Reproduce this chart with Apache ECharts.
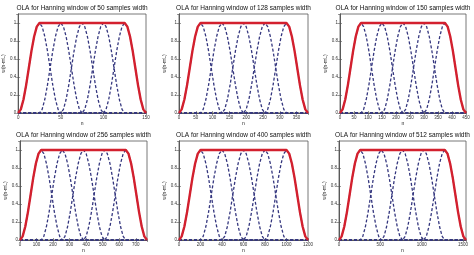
<!DOCTYPE html>
<html>
<head>
<meta charset="utf-8">
<script src="https://cdn.jsdelivr.net/npm/echarts@6/dist/echarts.min.js"></script>
<style>
html,body{margin:0;padding:0;background:#fff;}
#main{width:474px;height:255px;}
</style>
</head>
<body>
<div id="main"></div>
<script>
// window widths shown in each panel
var windowSizes=[50,128,150,256,400,512];
var xMax=[150,384,450,768,1200,1536];
var xInterval=[50,50,50,100,200,500];
var xShowMaxLabel=[true,false,true,false,true,false];
// window starts as a fraction of the width (hop = N/2)
var windowStarts=[0,0.5,1,1.5,2];
// one hanning window read at 1/16 steps of its width
var hannShape=[0,0.04,0.15,0.31,0.5,0.69,0.85,0.96,1,0.96,0.85,0.69,0.5,0.31,0.15,0.04,0];
var yTicks=[0,0.2,0.4,0.6,0.8,1];

var grids=[
    {left:18,top:14,width:128,height:99},
    {left:179,top:14,width:129,height:99},
    {left:340,top:14,width:126,height:99},
    {left:20,top:141,width:127,height:99},
    {left:179,top:141,width:129,height:99},
    {left:339,top:141,width:127,height:99}
];

var FONT='Liberation Sans';
var AXIS_COLOR='#555';

function windowData(N,start){
    var d=[[0,0]];
    for(var k=0;k<hannShape.length;k++){
        d.push([start*N+k*N/16,hannShape[k]]);
    }
    d.push([3*N,0]);
    return d;
}

function olaData(N){
    var d=[];
    for(var k=0;k<=8;k++){
        d.push([k*N/16,hannShape[k]]);
    }
    for(var k=8;k<hannShape.length;k++){
        d.push([2*N+k*N/16,hannShape[k]]);
    }
    return d;
}

var option={
    animation:false,
    backgroundColor:'#fff',
    graphic:[],grid:[],xAxis:[],yAxis:[],series:[]
};

for(var i=0;i<windowSizes.length;i++){
    var g=grids[i];
    var N=windowSizes[i];
    option.grid.push({left:g.left,top:g.top,width:g.width,height:g.height,show:true,borderColor:AXIS_COLOR,borderWidth:0.8});
    //panel titles
    option.graphic.push({
        type:'text',x:g.left+g.width/2,y:g.top-6,
        style:{text:'OLA for Hanning window of '+N+' samples width',
            textAlign:'center',textVerticalAlign:'middle',
            font:'6.5px "'+FONT+'"',fill:'#111'}
    });
    var xa={
        type:'value',gridIndex:i,min:0,max:xMax[i],interval:xInterval[i],
        name:'n',nameLocation:'middle',nameGap:7,
        nameTextStyle:{fontFamily:FONT,fontSize:5,color:'#222'},
        axisLine:{lineStyle:{color:AXIS_COLOR,width:0.8}},
        axisTick:{inside:true,length:2,lineStyle:{color:AXIS_COLOR,width:0.6}},
        axisLabel:{fontFamily:FONT,fontSize:4.5,color:'#333',margin:2,showMaxLabel:xShowMaxLabel[i],
            formatter:function(v){return String(v);}},
        splitLine:{show:false}
    };
    var xaTop={
        type:'value',gridIndex:i,position:'top',min:0,max:xMax[i],interval:xInterval[i],
        axisLine:{lineStyle:{color:AXIS_COLOR,width:0.8}},
        axisTick:{inside:true,length:2,lineStyle:{color:AXIS_COLOR,width:0.6}},
        axisLabel:{show:false},splitLine:{show:false}
    };
    var ya={
        type:'value',gridIndex:i,min:0,max:1.1,interval:0.2,
        name:'w(n-mL)',nameLocation:'middle',nameGap:8,
        nameTextStyle:{fontFamily:FONT,fontSize:5,color:'#222'},
        axisLine:{show:true,lineStyle:{color:AXIS_COLOR,width:0.8}},
        axisTick:{show:true,inside:true,length:2,lineStyle:{color:AXIS_COLOR,width:0.6}},
        axisLabel:{fontFamily:FONT,fontSize:4.5,color:'#333',margin:2,showMaxLabel:false,
            formatter:function(v){return yTicks.indexOf(Math.round(v*10)/10)>=0?String(Math.round(v*10)/10):'';}},
        splitLine:{show:false}
    };
    var yaRight={
        type:'value',gridIndex:i,position:'right',min:0,max:1.1,interval:0.2,
        axisLine:{show:true,lineStyle:{color:AXIS_COLOR,width:0.8}},
        axisTick:{show:true,inside:true,length:2,lineStyle:{color:AXIS_COLOR,width:0.6}},
        axisLabel:{show:false},splitLine:{show:false}
    };
    option.xAxis.push(xa,xaTop);
    option.yAxis.push(ya,yaRight);

    for(var w=0;w<windowStarts.length;w++){
        option.series.push({
            type:'line',xAxisIndex:2*i,yAxisIndex:2*i,
            data:windowData(N,windowStarts[w]),
            showSymbol:false,silent:true,
            lineStyle:{color:'#35377f',width:1.3,type:[3,2]}
        });
    }
    option.series.push({
        type:'line',xAxisIndex:2*i,yAxisIndex:2*i,
        data:olaData(N),
        showSymbol:false,silent:true,
        lineStyle:{color:'#d3202e',width:2.4}
    });
}

var myChart=echarts.init(document.getElementById('main'),null,{renderer:'canvas'});
myChart.setOption(option);
</script>
</body>
</html>
